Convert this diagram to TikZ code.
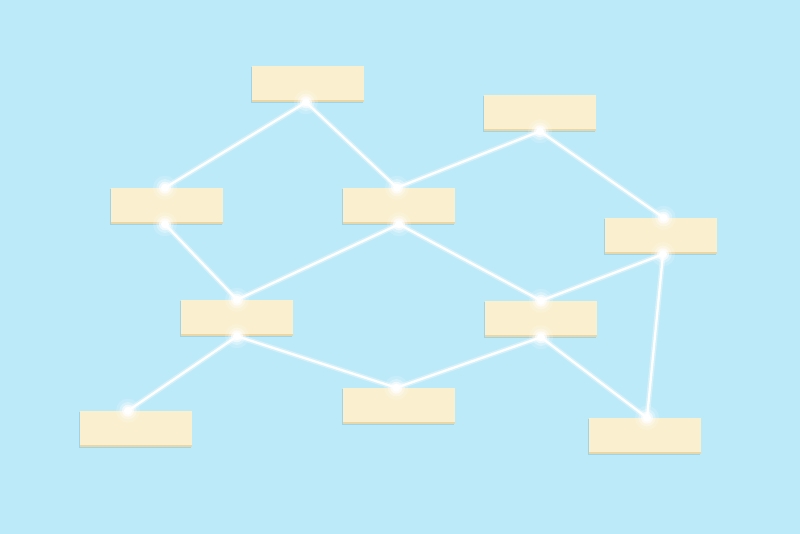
\documentclass[tikz,border=0pt]{standalone}
\usepackage{xcolor}
\usepackage{tikz}
\usetikzlibrary{shadows}

\definecolor{sky}{HTML}{BDEAF8}
\definecolor{plankfill}{HTML}{FAF0CF}
\definecolor{plankedge}{HTML}{EAD7A8}
\definecolor{shade}{HTML}{8CC6DC}

\begin{document}
\begin{tikzpicture}[x=0.75pt, y=-0.75pt,
	plank/.style={minimum width=84pt, minimum height=27pt, inner sep=0pt, fill=plankfill,
		drop shadow={shadow xshift=-1pt, shadow yshift=-1pt, fill=shade, opacity=0.6},
		path picture={\fill[plankedge] (path picture bounding box.south west) rectangle ([yshift=1.3pt]path picture bounding box.south east);}},
	link/.style={white, line width=1.7pt, preaction={draw, white, opacity=0.35, line width=4pt}}]
	\fill[sky] (0,0) rectangle (800,534);

	% planks
	\node [plank] (a) at (308,84) {};
	\node [plank] (b) at (540,113) {};
	\node [plank] (c) at (167,206) {};
	\node [plank] (d) at (399,206) {};
	\node [plank] (e) at (661,236) {};
	\node [plank] (f) at (237,318) {};
	\node [plank] (g) at (541,319) {};
	\node [plank] (h) at (136,429) {};
	\node [plank] (i) at (399,406) {};
	\node [plank] (j) at (645,436) {};

	% joints
	\coordinate (a-s) at ([xshift=-1.5pt]a.south);
	\coordinate (b-s) at (b.south);
	\coordinate (c-n) at ([xshift=-1.5pt]c.north);
	\coordinate (c-s) at ([xshift=-1.5pt]c.south);
	\coordinate (d-n) at ([xshift=-1.5pt]d.north);
	\coordinate (d-s) at (d.south);
	\coordinate (e-n) at ([xshift=2pt]e.north);
	\coordinate (e-s) at ([xshift=1.5pt]e.south);
	\coordinate (f-n) at (f.north);
	\coordinate (f-s) at (f.south);
	\coordinate (g-n) at (g.north);
	\coordinate (g-s) at (g.south);
	\coordinate (h-n) at ([xshift=-6pt]h.north);
	\coordinate (i-n) at ([xshift=-2pt]i.north);
	\coordinate (j-n) at ([xshift=1.5pt]j.north);

	\draw [link] (a-s) -- (c-n);
	\draw [link] (a-s) -- (d-n);
	\draw [link] (d-n) -- (b-s);
	\draw [link] (b-s) -- (e-n);
	\draw [link] (c-s) -- (f-n);
	\draw [link] (d-s) -- (f-n);
	\draw [link] (d-s) -- (g-n);
	\draw [link] (e-s) -- (g-n);
	\draw [link] (e-s) -- (j-n);
	\draw [link] (f-s) -- (h-n);
	\draw [link] (f-s) -- (i-n);
	\draw [link] (g-s) -- (i-n);
	\draw [link] (g-s) -- (j-n);

	\foreach \p in {a-s,b-s,c-n,c-s,d-n,d-s,e-n,e-s,f-n,f-s,g-n,g-s,h-n,i-n,j-n} {
		\fill [white, opacity=0.15] (\p) circle (9pt);
		\fill [white, opacity=0.3] (\p) circle (6.5pt);
		\fill [white, opacity=0.6] (\p) circle (4.5pt);
		\fill [white] (\p) circle (3pt);
	}
\end{tikzpicture}
\end{document}
